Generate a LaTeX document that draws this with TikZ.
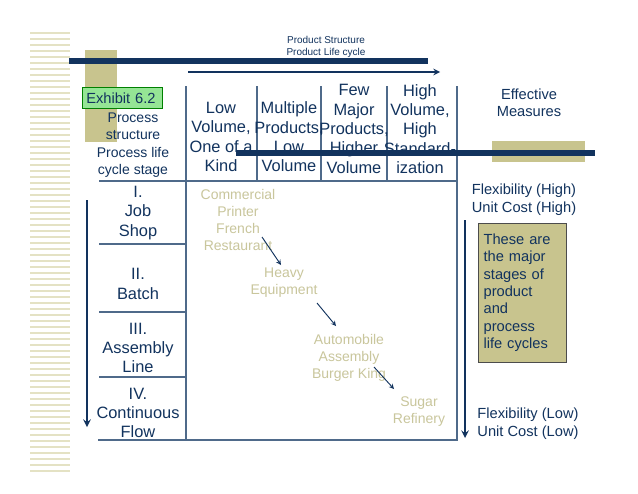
\documentclass[tikz,border=0pt]{standalone}
\usepackage{fontspec}
\setmainfont{Liberation Sans}
\begin{document}
\begin{tikzpicture}[x=0.75pt,y=-0.75pt,
  every node/.style={inner sep=0pt,align=center},
  txt/.style={text=navy,font=\fontsize{12.3}{14.5}\selectfont},
  mtxt/.style={text=navy,font=\fontsize{10.5}{13}\selectfont},
  ktxt/.style={text=khtext,font=\fontsize{10.5}{12.8}\selectfont},
  small/.style={text=navy,font=\fontsize{7.5}{9}\selectfont},
  thick line/.style={draw=navy,line width=4pt},
  grid/.style={draw=gridc,line width=0.8pt},
  arr/.style={draw=navy,line width=0.7pt,-stealth}]
\definecolor{navy}{HTML}{12335E}
\definecolor{khaki}{HTML}{C8C48E}
\definecolor{khtext}{HTML}{C9C69C}
\definecolor{gridc}{HTML}{4F6A8A}
\definecolor{stripe}{HTML}{E4E2C4}
\useasboundingbox (0,0) rectangle (638,493);
\fill[white] (0,0) rectangle (638,493);
\foreach \y in {33,39,...,471} \draw[stripe,line width=1.3pt] (30,\y) -- (70,\y);
\fill[khaki] (85,50) rectangle (117,142);
\draw[thick line] (69,61) -- (428,61);
\node[small] (ps) at (326,40) {Product Structure};
\node[small] (pl) at (326,53) {Product Life cycle};
\coordinate (a1) at (188,72); \coordinate (a2) at (440,72);
\draw[arr,line width=1.2pt] (a1) -- (a2);
\node[draw=green!50!black,fill=green!35!white!90!black,text=navy,font=\fontsize{11}{13}\selectfont,anchor=west,inner sep=0pt,text width=60pt,minimum height=16pt,align=left] (ex) at (82,98) {\hspace{3pt}Exhibit 6.2};
\node[mtxt] (pst) at (133,145) {Process\\structure\\Process life\\cycle stage};
\foreach \x in {186,257,321,387,457} \draw[grid] (\x,86) -- (\x,181);
\draw[grid] (99,181) -- (457,181);
\draw[grid] (186,181) rectangle (457,440);
\draw[grid] (98,440) -- (186,440);
\foreach \y in {244,312,377} \draw[grid] (99,\y) -- (186,\y);
\node[txt] (h1) at (221,137) {Low\\Volume,\\One of a\\Kind};
\node[txt] (h2) at (289,137) {Multiple\\Products,\\Low\\Volume};
\node[txt] (h3) at (354,129) {Few\\Major\\Products,\\Higher\\Volume};
\node[txt] (h4) at (420,129) {High\\Volume,\\High\\Standard-\\ization};
\fill[khaki] (492,141) rectangle (585,162);
\draw[thick line] (236,153) -- (595,153);
\node[mtxt,font=\fontsize{11}{13}\selectfont] (em) at (529,103) {Effective\\Measures};
\node[txt] (r1) at (138,213) {I.\\Job\\Shop};
\node[txt] (r2) at (138,284) {II.\\Batch};
\node[txt] (r3) at (138,348) {III.\\Assembly\\Line};
\node[txt] (r4) at (138,413) {IV.\\Continuous\\Flow};
\coordinate (l1) at (87,200); \coordinate (l2) at (87,427);
\draw[arr,line width=1.5pt] (l1) -- (l2);
\node[ktxt] (e1) at (238,220) {Commercial\\Printer\\French\\Restaurant};
\node[ktxt] (e2) at (284,283) {Heavy\\Equipment};
\node[ktxt] (e3) at (349,358) {Automobile\\Assembly\\Burger King};
\node[ktxt] (e4) at (419,412) {Sugar\\Refinery};
\coordinate (s1) at (262,237); \coordinate (t1) at (281,265);
\coordinate (s2) at (317,303); \coordinate (t2) at (336,326);
\coordinate (s3) at (374,367); \coordinate (t3) at (394,389);
\draw[arr] (s1) -- (t1); \draw[arr] (s2) -- (t2); \draw[arr] (s3) -- (t3);
\node[mtxt,font=\fontsize{11}{13.5}\selectfont] (fh) at (524,200) {Flexibility (High)\\Unit Cost (High)};
\node[mtxt,font=\fontsize{11}{13.5}\selectfont] (fl) at (528,424) {Flexibility (Low)\\Unit Cost (Low)};
\coordinate (v1) at (465,220); \coordinate (v2) at (465,438);
\draw[arr,line width=1.5pt] (v1) -- (v2);
\node[draw=gray!60!black,fill=khaki,text=navy,font=\fontsize{11}{13}\selectfont,align=left,anchor=north west,text width=58pt,inner sep=4pt,minimum height=104pt] (box) at (478,223) {These are\\the major\\stages of\\product\\and\\process\\life cycles};
\end{tikzpicture}
\end{document}
